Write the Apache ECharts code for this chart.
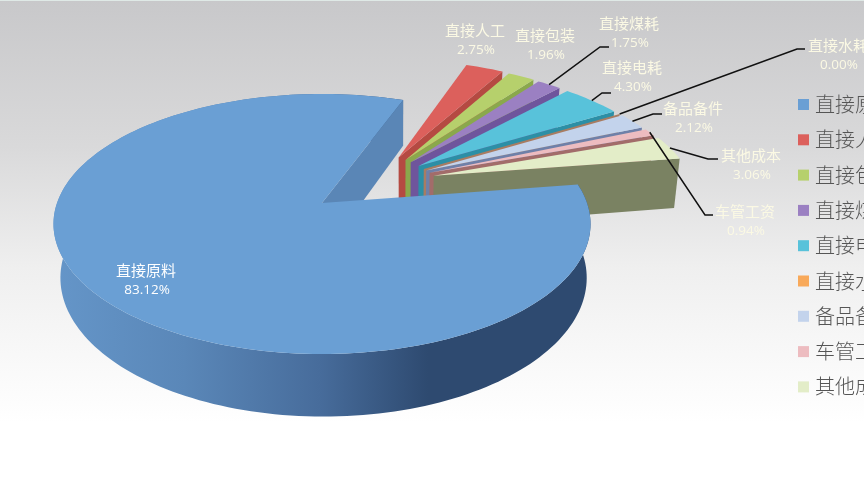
<!DOCTYPE html>
<html><head><meta charset="utf-8">
<style>html,body{margin:0;padding:0;overflow:hidden;background:#fff}#c{width:864px;height:486px}</style>
<script src="https://cdn.jsdelivr.net/npm/echarts@6/dist/echarts.min.js"></script>
</head><body><div id="c"></div>
<script>
const categories = ['直接原料','直接人工','直接包装','直接煤耗','直接电耗','直接水耗','备品备件','车管工资','其他成本'];
const percents = [83.12,2.75,1.96,1.75,4.30,0.00,2.12,0.94,3.06];
const topColors = ['#6a9fd4','#dc605c','#b6d06c','#9b80c2','#58c2da','#f8a95a','#c3d3ec','#edbcc0','#e3edc8'];
const wallColors = ['#5a86b6','#b54a42','#8aa84c','#6f559c','#2c8fa6','#a87c62','#6f80a8','#a26c6a','#7a8262'];
const labelCenters = [[146,270],[475,30],[545,35],[629,23],[632,67],[838,45],[693,108],[745,211],[751,155]];
const leaderElbows = [null,null,null,[[600,47],[609,47]],[[602,93],[611,93]],[[797,49],[805,49]],[[653,114],[662,114]],[[705,215],[713,215]],[[708,159],[718,159]]];

// Projection of the tilted disc to the screen
const APEX=[322,203], K=0.1615, SX=265, SY=126.6, DROP=52.5, VPX=400, VS=0.98;
const START=81.4, EXPLODE=0.49, SMALL_R=1.006;
function proj(u,v){const w=1-K*v;return [APEX[0]+SX*u/w,APEX[1]+SY*v/w];}
function low(u,v){const w=1-K*v,p=proj(u,v);return [VPX+(p[0]-VPX)*VS,p[1]+DROP/w];}
const rad=d=>d*Math.PI/180;
const polar=(a,r)=>[r*Math.sin(rad(a)),-r*Math.cos(rad(a))];

// Cumulative angles clockwise from the top
const total=percents.reduce((a,b)=>a+b,0);
const spans=[];let acc=START;
percents.forEach(p=>{const s=acc,e=acc+p/total*360;spans.push([s,e]);acc=e;});
const groupMid=(spans[1][0]+spans[8][1])/2;
function offset(i){
  if(i===0)return [0,0];
  const mid=(spans[i][0]+spans[i][1])/2;
  return polar(groupMid+(mid-groupMid)*0.48,EXPLODE);
}
function rim(i,a){const o=offset(i),q=polar(a,i===0?1:SMALL_R);return [o[0]+q[0],o[1]+q[1]];}
function arc(i,a,b,fn){const n=Math.max(1,Math.ceil(Math.abs(b-a)/1.5)),out=[];
  for(let k=0;k<=n;k++){const t=rim(i,a+(b-a)*k/n);out.push(fn(t[0],t[1]));}return out;}

function renderSlice(i){return function(params,api){
  const p=api.value(0);
  const s=spans[i][0],e=s+p/total*360,o=offset(i),kids=[];
  const A=proj(o[0],o[1]),B=low(o[0],o[1]);
  if(i===0){
    const r=rim(0,e);
    const tp=arc(0,s,e,proj),bt=arc(0,s,e,low).reverse();
    kids.push({type:'polygon',shape:{points:tp.concat(bt)},style:{fill:new echarts.graphic.LinearGradient(50,0,590,0,[
      {offset:0,color:'#6596c9'},{offset:0.25,color:'#5a87b8'},{offset:0.5,color:'#476c9b'},{offset:0.7,color:'#2e4a70'},{offset:1,color:'#2e4a70'}],true)}});
    kids.push({type:'polygon',shape:{points:[A,proj(r[0],r[1]),low(r[0],r[1]),B]},style:{fill:wallColors[0]}});
    kids.push({type:'polygon',shape:{points:[A].concat(tp)},style:{fill:topColors[0]}});
  }else{
    const r=rim(i,e);
    kids.push({type:'polygon',shape:{points:[A,proj(r[0],r[1]),low(r[0],r[1]),B]},style:{fill:wallColors[i]}});
    if(p>0)kids.push({type:'polygon',shape:{points:[A].concat(arc(i,s,e,proj))},style:{fill:topColors[i]}});
  }
  return {type:'group',children:kids};
};}

const labelColor=i=>i===0?'#ffffff':'#fbf9e4';
function renderLabel(params,api){
  const i=api.value(0),c=labelCenters[i],kids=[];
  if(leaderElbows[i]){
    const m=(spans[i][0]+spans[i][1])/2,q=rim(i,m);
    kids.push({type:'polyline',shape:{points:[proj(q[0],q[1])].concat(leaderElbows[i])},style:{stroke:'#111',lineWidth:1.5,fill:null}});
  }
  kids.push({type:'text',style:{x:c[0],y:c[1],text:categories[i],fill:labelColor(i),font:'15px "Noto Sans CJK SC"',align:'center',verticalAlign:'middle'}});
  kids.push({type:'text',style:{x:c[0]+1,y:c[1]+20,text:percents[i].toFixed(2)+'%',fill:labelColor(i),font:'13.5px "Open Sans"',align:'center',verticalAlign:'middle'}});
  return {type:'group',children:kids};
}

const series=categories.map((name,i)=>({
  type:'custom',name,coordinateSystem:'none',silent:true,animation:false,clip:false,
  z:i===0?20:2+i,
  itemStyle:{color:topColors[i]},
  renderItem:renderSlice(i),
  encode:{value:0},
  data:[[percents[i]]]
}));
series.push({type:'custom',name:'labels',coordinateSystem:'none',silent:true,animation:false,z:30,
  renderItem:renderLabel,data:categories.map((c,i)=>[i])});

const chart=echarts.init(document.getElementById('c'),null,{renderer:'canvas',width:864,height:486});
chart.setOption({
  animation:false,
  backgroundColor:new echarts.graphic.LinearGradient(0,0,0,1,[
    {offset:0,color:'#c8c8ca'},{offset:0.3,color:'#d9d9da'},{offset:0.55,color:'#efefef'},{offset:0.87,color:'#ffffff'},{offset:1,color:'#ffffff'}]),
  graphic:[{type:'rect',shape:{x:0,y:0,width:864,height:1},style:{fill:'#dfe9e6'},silent:true}],
  legend:{data:categories,orient:'vertical',left:798,top:94,padding:0,itemWidth:11,itemHeight:11,itemGap:14.3,icon:'rect',selectedMode:false,
    textStyle:{fontFamily:'"Noto Sans CJK SC"',fontSize:20,fontWeight:300,color:'#555',lineHeight:21,padding:[0,0,0,1]}},
  series
});
</script></body></html>
